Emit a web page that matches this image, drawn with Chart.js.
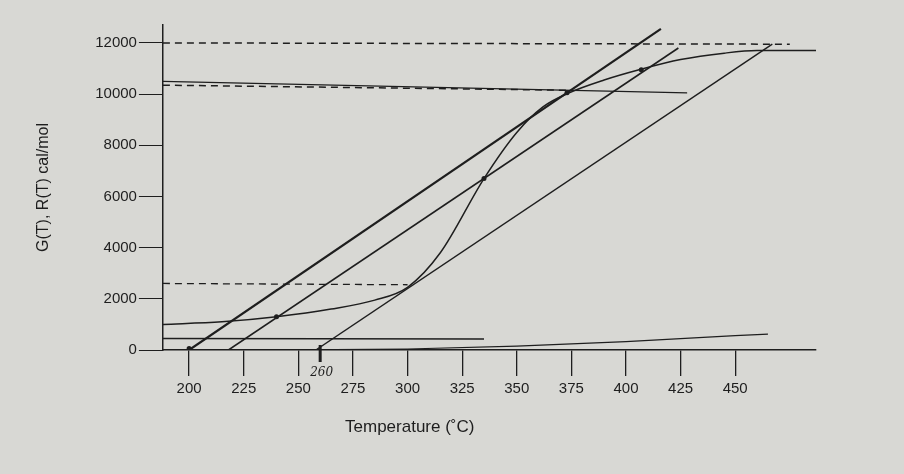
<!DOCTYPE html>
<html><head><meta charset="utf-8">
<script src="https://cdn.jsdelivr.net/npm/chart.js@4"></script>
<style>
html,body{margin:0;padding:0;background:#d8d8d4;}
#wrap{width:904px;height:474px;}
</style></head>
<body><div id="wrap"><canvas id="c"></canvas></div>
<script>
// Heat generation / removal lines (T in C, value in cal/mol)
const xTicks = [200, 225, 250, 275, 300, 325, 350, 375, 400, 425, 450];
const yTicks = [0, 2000, 4000, 6000, 8000, 10000, 12000];
const lineA = [{x: 200, y: 0}, {x: 416, y: 12550}];
const lineB = [{x: 218, y: 0}, {x: 424, y: 11800}];
const lineC = [{x: 258, y: 0}, {x: 467, y: 11950}];
const curveG = [
  {x: 188, y: 1000}, {x: 215, y: 1100}, {x: 240, y: 1300}, {x: 265, y: 1600}, {x: 285, y: 1950},
  {x: 300, y: 2450}, {x: 315, y: 3800}, {x: 335, y: 6700}, {x: 350, y: 8500}, {x: 362, y: 9500},
  {x: 374, y: 10050}, {x: 390, y: 10550}, {x: 406, y: 10950}, {x: 425, y: 11350},
  {x: 445, y: 11600}, {x: 460, y: 11700}, {x: 487, y: 11700}
];
const flatTop = [{x: 188, y: 10500}, {x: 428, y: 10050}];
const flatLow = [{x: 186, y: 450}, {x: 335, y: 430}];
const removal = [{x: 250, y: 0}, {x: 300, y: 40}, {x: 350, y: 150}, {x: 400, y: 330}, {x: 450, y: 560}, {x: 465, y: 620}];
const dash12000 = [{x: 188, y: 12000}, {x: 475, y: 11950}];
const dash10400 = [{x: 188, y: 10350}, {x: 374, y: 10150}];
const dash2600 = [{x: 188, y: 2600}, {x: 300, y: 2550}];
const dots = [{x: 200, y: 60}, {x: 240, y: 1300}, {x: 335, y: 6700}, {x: 373, y: 10050}, {x: 407, y: 10950}];
const ink = '#1e1e1e';

function ln(data, w, dash) {
  return {type: 'line', data, borderColor: ink, borderWidth: w, borderDash: dash || [], pointRadius: 0, tension: 0, fill: false};
}
const datasets = [
  ln(lineA, 2.2), ln(lineB, 1.6), ln(lineC, 1.4),
  Object.assign(ln(curveG, 1.5), {cubicInterpolationMode: 'monotone'}),
  ln(flatTop, 1.3), ln(flatLow, 1.5),
  Object.assign(ln(removal, 1.2), {cubicInterpolationMode: 'monotone'}),
  ln(dash12000, 1.5, [7, 5]), ln(dash10400, 1.5, [7, 5]), ln(dash2600, 1.3, [7, 5]),
  {type: 'scatter', data: dots, pointRadius: 2.5, pointBackgroundColor: ink, pointBorderWidth: 0}
];

// hand-written 260 mark and the off-centre axis title
const handNote = {
  id: 'handNote',
  afterDraw(chart) {
    const ctx = chart.ctx, xs = chart.scales.x, ys = chart.scales.y;
    const px = xs.getPixelForValue(260), py = ys.getPixelForValue(0);
    ctx.save();
    ctx.strokeStyle = ink; ctx.lineWidth = 3;
    ctx.beginPath(); ctx.moveTo(px, py - 5); ctx.lineTo(px, py + 12); ctx.stroke();
    ctx.fillStyle = ink; ctx.font = 'italic 12px "DejaVu Serif"';
    ctx.fillText('260', px - 10, py + 26);
    ctx.font = '17px "Liberation Sans"'; ctx.textAlign = 'center';
    ctx.fillText('Temperature (˚C)', xs.getPixelForValue(301), py + 82);
    ctx.restore();
  }
};

new Chart(document.getElementById('c'), {
  data: {datasets},
  options: {
    responsive: true, maintainAspectRatio: false, animation: false,
    layout: {padding: {left: 30, right: 88, top: 25, bottom: 72}},
    plugins: {legend: {display: false}, tooltip: {enabled: false}},
    scales: {
      x: {
        type: 'linear', min: 188, max: 487,
        afterBuildTicks: s => { s.ticks = xTicks.map(v => ({value: v})); },
        grid: {drawOnChartArea: false, color: ink, tickLength: 26, lineWidth: 1.3},
        border: {color: ink, width: 1.5},
        ticks: {color: ink, font: {family: 'Liberation Sans', size: 15}, padding: 4, callback: v => String(v)}
      },
      y: {
        min: 0, max: 12700,
        afterBuildTicks: s => { s.ticks = yTicks.map(v => ({value: v})); },
        grid: {drawOnChartArea: false, color: ink, tickLength: 24, lineWidth: 1},
        border: {color: ink, width: 1.5},
        ticks: {color: ink, font: {family: 'Liberation Sans', size: 15}, padding: 2, callback: v => String(v)},
        title: {display: true, text: 'G(T), R(T) cal/mol', color: ink, font: {family: 'Liberation Sans', size: 16}, padding: {bottom: 40}}
      }
    }
  },
  plugins: [handNote]
});
</script></body></html>
